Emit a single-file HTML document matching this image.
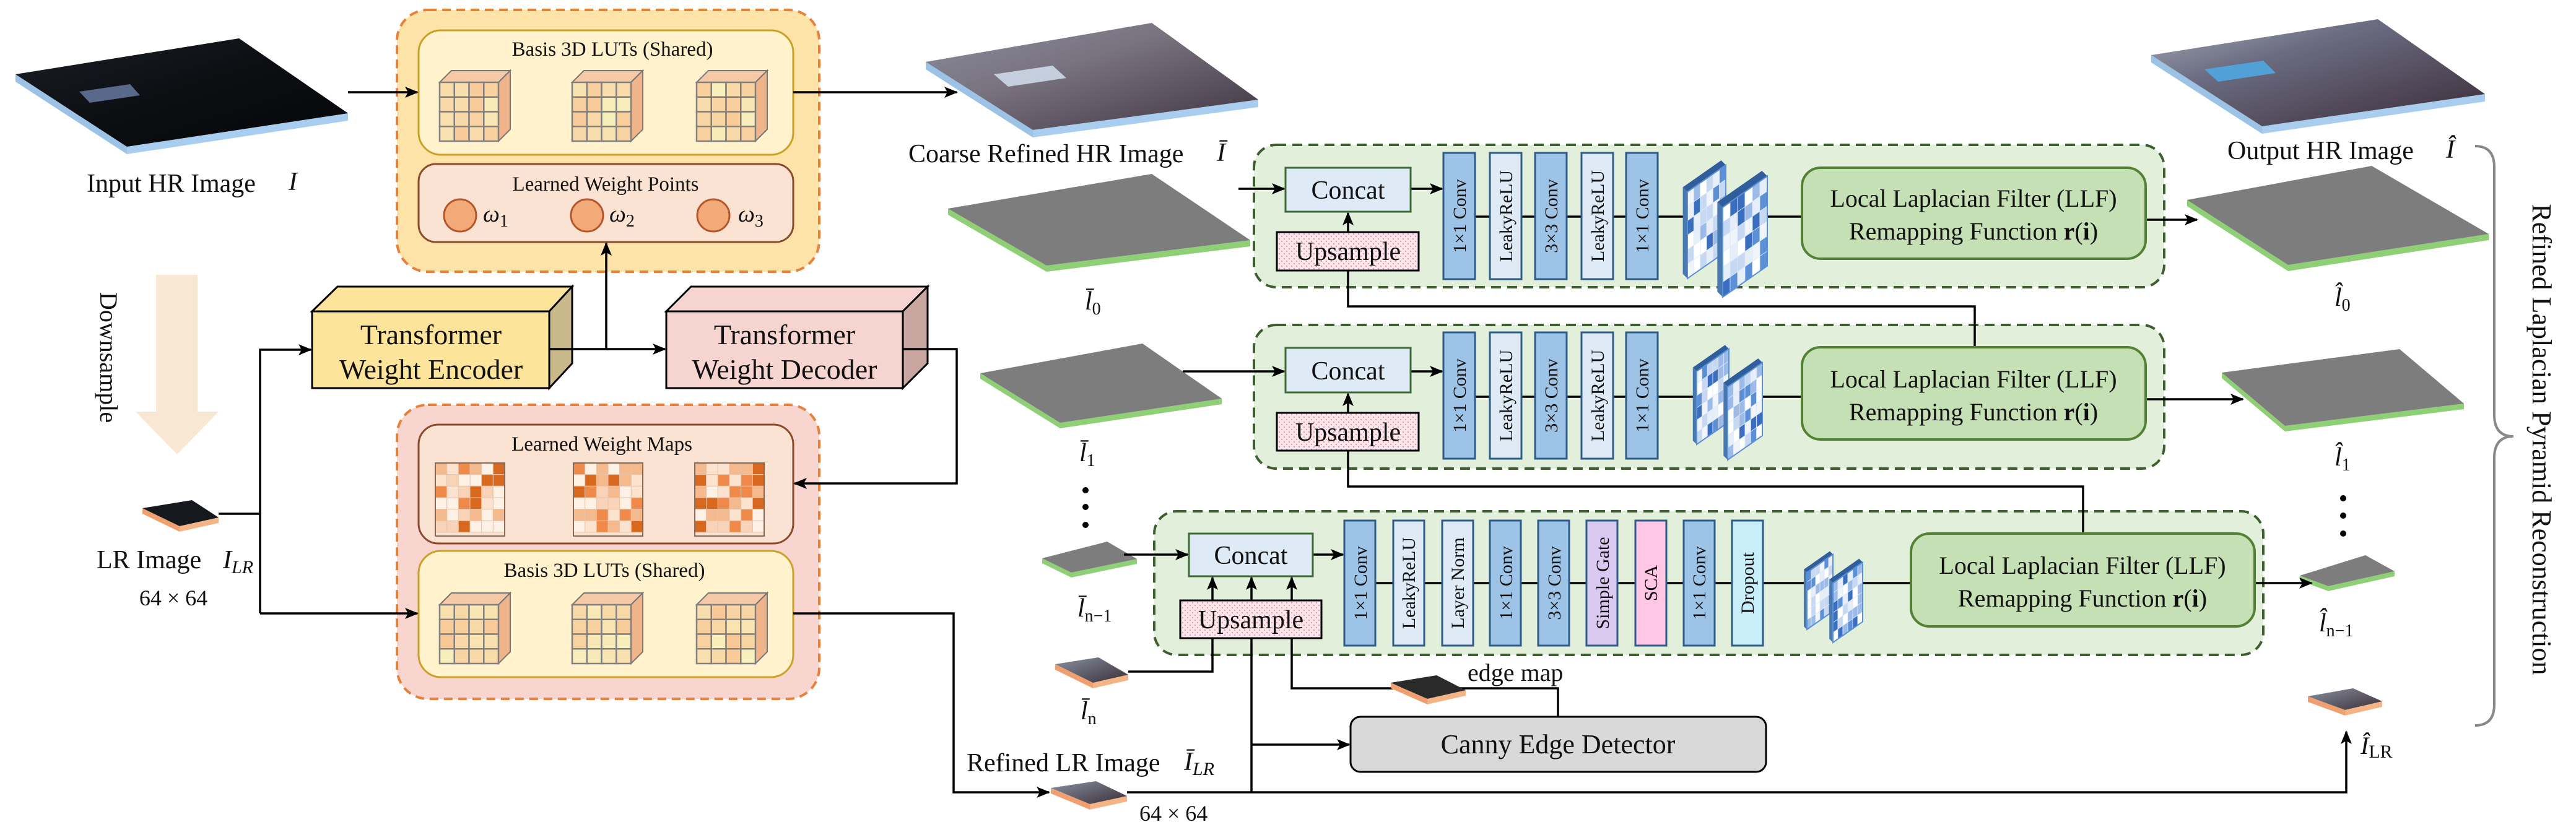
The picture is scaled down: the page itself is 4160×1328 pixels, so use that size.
<!DOCTYPE html>
<html><head><meta charset="utf-8"><style>
html,body{margin:0;padding:0;background:#fff;}
svg{display:block;}
svg text{font-family:"Liberation Serif","DejaVu Serif",serif;fill:#111;}
.m{font-style:italic;}
</style></head><body>
<svg id="s" width="4160" height="1328" viewBox="0 0 4160 1328" xmlns="http://www.w3.org/2000/svg" font-family="Liberation Serif, DejaVu Serif, serif">
<defs>
<marker id="a2" markerWidth="22" markerHeight="18" refX="20" refY="9" orient="auto" markerUnits="userSpaceOnUse"><path d="M0,0 L22,9 L0,18 L5,9 z" fill="#000"/></marker>
<pattern id="dots" width="8" height="8" patternUnits="userSpaceOnUse"><rect width="8" height="8" fill="#fde8ee"/><circle cx="2" cy="2" r="1.2" fill="#e79ab0"/><circle cx="6" cy="6" r="1.2" fill="#e79ab0"/></pattern>
<linearGradient id="gIn" x1="0" y1="0" x2="1" y2="1"><stop offset="0" stop-color="#1b1f26"/><stop offset="0.5" stop-color="#0c0e12"/><stop offset="1" stop-color="#050608"/></linearGradient>
<linearGradient id="gCo" x1="0" y1="0" x2="1" y2="1"><stop offset="0" stop-color="#8a8f9e"/><stop offset="0.4" stop-color="#7a7380"/><stop offset="1" stop-color="#3d3440"/></linearGradient>
<linearGradient id="gOut" x1="0" y1="0" x2="1" y2="1"><stop offset="0" stop-color="#a5a9b5"/><stop offset="0.35" stop-color="#6b6c82"/><stop offset="1" stop-color="#3a2a35"/></linearGradient>
<linearGradient id="gSm" x1="0" y1="0" x2="1" y2="1"><stop offset="0" stop-color="#8890a0"/><stop offset="1" stop-color="#3a2f38"/></linearGradient>
</defs>

<rect x="641" y="16" width="682" height="423" rx="50" fill="#fde3a7" stroke="#e8803a" stroke-width="4" stroke-dasharray="14,9"/>
<rect x="676" y="49" width="605" height="201" rx="36" fill="#fff2cc" stroke="#c9a227" stroke-width="3"/>
<text x="989" y="90" font-size="33" text-anchor="middle">Basis 3D LUTs (Shared)</text>
<rect x="676" y="265" width="605" height="126" rx="28" fill="#fbe3d4" stroke="#8b4a2b" stroke-width="3"/>
<text x="978" y="308" font-size="33" text-anchor="middle">Learned Weight Points</text>
<g fill="#f2ab78" stroke="#b5562a" stroke-width="3">
<circle cx="743" cy="348" r="26"/><circle cx="948" cy="348" r="26"/><circle cx="1152" cy="348" r="26"/></g>
<text x="780" y="358" font-size="38" class="m">ω<tspan font-size="28" dy="8" font-style="normal">1</tspan></text>
<text x="984" y="358" font-size="38" class="m">ω<tspan font-size="28" dy="8" font-style="normal">2</tspan></text>
<text x="1192" y="358" font-size="38" class="m">ω<tspan font-size="28" dy="8" font-style="normal">3</tspan></text>

<rect x="641" y="654" width="682" height="475" rx="50" fill="#f8d5cf" stroke="#e8803a" stroke-width="4" stroke-dasharray="14,9"/>
<rect x="676" y="686" width="605" height="192" rx="32" fill="#fbe3d4" stroke="#8b4a2b" stroke-width="3"/>
<text x="972" y="728" font-size="33" text-anchor="middle">Learned Weight Maps</text>
<rect x="676" y="890" width="605" height="204" rx="36" fill="#fff2cc" stroke="#c9a227" stroke-width="3"/>
<text x="976" y="932" font-size="33" text-anchor="middle">Basis 3D LUTs (Shared)</text>
<g id="cubes"></g>
<g id="wmaps"></g>

<polygon points="25,132 205,249 205,237 25,120" fill="#9cc2e5"/>
<polygon points="205,249 562,195 562,183 205,237" fill="#a9cdee"/>
<polygon points="25,120 386,62 562,183 205,237" fill="url(#gIn)"/>
<polygon points="128,148 210,136 226,154 145,166" fill="#6b7fa8" opacity="0.8"/>
<text x="140" y="310" font-size="42">Input HR Image</text><text x="466" y="307" font-size="42" class="m">I</text>

<polygon points="252,444 319,444 319,665 353,665 286,734 219,665 252,665" fill="#f8e7d2"/>
<text transform="translate(162,472) rotate(90)" font-size="40">Downsample</text>

<polygon points="230,830 290,859 290,850 230,821" fill="#f0a070"/>
<polygon points="290,859 353,845 353,836 290,850" fill="#f4b486"/>
<polygon points="230,821 310,808 353,836 290,850" fill="#15181d"/>
<text x="156" y="918" font-size="42">LR Image</text><text x="360" y="918" font-size="42" class="m">I<tspan font-size="30" dy="8">LR</tspan></text>
<text x="280" y="978" font-size="36" text-anchor="middle">64 × 64</text>

<polygon points="504,503 545,463 924,463 887,503" fill="#fde49b" stroke="#000" stroke-width="3"/>
<polygon points="887,503 924,463 924,587 887,627" fill="#c9b98a" stroke="#000" stroke-width="3"/>
<rect x="504" y="503" width="383" height="124" fill="#fde49b" stroke="#000" stroke-width="3"/>
<text x="696" y="556" font-size="46" text-anchor="middle">Transformer</text>
<text x="696" y="612" font-size="46" text-anchor="middle">Weight Encoder</text>
<polygon points="1076,503 1116,463 1498,463 1458,503" fill="#f6d5d0" stroke="#000" stroke-width="3"/>
<polygon points="1458,503 1498,463 1498,587 1458,627" fill="#c9a6a0" stroke="#000" stroke-width="3"/>
<rect x="1076" y="503" width="382" height="124" fill="#f6d5d0" stroke="#000" stroke-width="3"/>
<text x="1267" y="556" font-size="46" text-anchor="middle">Transformer</text>
<text x="1267" y="612" font-size="46" text-anchor="middle">Weight Decoder</text>

<g stroke="#000" stroke-width="3.5" fill="none">
<line x1="562" y1="149" x2="674" y2="149" marker-end="url(#a2)"/>
<polyline points="353,830 420,830"/>
<polyline points="420,991 420,565 502,565" marker-end="url(#a2)"/>
<polyline points="420,991 674,991" marker-end="url(#a2)"/>
<line x1="887" y1="564" x2="1074" y2="564" marker-end="url(#a2)"/>
<line x1="979" y1="564" x2="979" y2="393" marker-end="url(#a2)"/>
<polyline points="1458,564 1545,564 1545,781 1283,781" marker-end="url(#a2)"/>
<line x1="1281" y1="149" x2="1545" y2="149" marker-end="url(#a2)"/>
<polyline points="1281,991 1540,991 1540,1280 1694,1280" marker-end="url(#a2)"/>
</g>

<polygon points="1495,112 1668,222 1668,210 1495,100" fill="#9cc2e5"/>
<polygon points="1668,222 2032,173 2032,161 1668,210" fill="#a9cdee"/>
<polygon points="1495,100 1860,37 2032,161 1668,210" fill="url(#gCo)"/>
<polygon points="1605,120 1700,106 1722,126 1628,140" fill="#d8e6f5" opacity="0.8"/>
<text x="1467" y="262" font-size="42">Coarse Refined HR Image</text><text x="1965" y="260" font-size="42" class="m">Ī</text>

<polygon points="3474,101 3653,216 3653,204 3474,89" fill="#9cc2e5"/>
<polygon points="3653,216 4013,164 4013,152 3653,204" fill="#a9cdee"/>
<polygon points="3474,89 3840,31 4013,152 3653,204" fill="url(#gOut)"/>
<polygon points="3560,112 3655,98 3675,118 3582,132" fill="#4fa7e0" opacity="0.9"/>
<text x="3597" y="257" font-size="42">Output HR Image</text><text x="3950" y="255" font-size="42" class="m">Î</text>

<rect x="2025" y="234" width="1470" height="230" rx="36" fill="#e2efda" stroke="#3d5e2e" stroke-width="4" stroke-dasharray="16,10"/>
<rect x="2025" y="525" width="1470" height="232" rx="36" fill="#e2efda" stroke="#3d5e2e" stroke-width="4" stroke-dasharray="16,10"/>
<rect x="1864" y="826" width="1791" height="232" rx="36" fill="#e2efda" stroke="#3d5e2e" stroke-width="4" stroke-dasharray="16,10"/>

<g id="planes"></g>

<g stroke="#000" stroke-width="3.5" fill="none">
<line x1="2000" y1="305" x2="2074" y2="305" marker-end="url(#a2)"/>
<line x1="2278" y1="305" x2="2329" y2="305" marker-end="url(#a2)"/>
<line x1="2177" y1="375" x2="2177" y2="344" marker-end="url(#a2)"/>
<line x1="2382" y1="350" x2="2910" y2="350"/>
<line x1="3465" y1="355" x2="3548" y2="355" marker-end="url(#a2)"/>
<polyline points="2177,437 2177,495 3189,495 3189,561"/>

<line x1="1910" y1="600" x2="2074" y2="600" marker-end="url(#a2)"/>
<line x1="2278" y1="600" x2="2329" y2="600" marker-end="url(#a2)"/>
<line x1="2177" y1="667" x2="2177" y2="636" marker-end="url(#a2)"/>
<line x1="2382" y1="641" x2="2910" y2="641"/>
<line x1="3465" y1="645" x2="3622" y2="645" marker-end="url(#a2)"/>
<polyline points="2177,728 2177,786 3364,786 3364,862"/>

<line x1="1815" y1="896" x2="1918" y2="896" marker-end="url(#a2)"/>
<line x1="2120" y1="896" x2="2169" y2="896" marker-end="url(#a2)"/>
<line x1="1958" y1="970" x2="1958" y2="933" marker-end="url(#a2)"/>
<line x1="2021" y1="970" x2="2021" y2="933" marker-end="url(#a2)"/>
<line x1="2086" y1="970" x2="2086" y2="933" marker-end="url(#a2)"/>
<line x1="2221" y1="942" x2="3086" y2="942"/>
<line x1="3641" y1="942" x2="3733" y2="942" marker-end="url(#a2)"/>
<polyline points="1822,1085 1958,1085 1958,1031"/>
<polyline points="2021,1031 2021,1280"/>
<line x1="2021" y1="1203" x2="2179" y2="1203" marker-end="url(#a2)"/>
<polyline points="2086,1031 2086,1112 2516,1112 2516,1158"/>
<polyline points="1820,1280 3789,1280 3789,1182" marker-end="url(#a2)"/>
</g>

<g stroke-width="3">
<rect x="2076" y="271" width="202" height="71" fill="#deebf7" stroke="#3d6b35"/>
<rect x="2062" y="375" width="229" height="62" fill="url(#dots)" stroke="#000"/>
<rect x="2076" y="562" width="202" height="72" fill="#deebf7" stroke="#3d6b35"/>
<rect x="2062" y="667" width="229" height="61" fill="url(#dots)" stroke="#000"/>
<rect x="1920" y="862" width="200" height="69" fill="#deebf7" stroke="#3d6b35"/>
<rect x="1906" y="970" width="228" height="61" fill="url(#dots)" stroke="#000"/>
</g>
<text x="2177" y="321" font-size="42" text-anchor="middle">Concat</text>
<text x="2177" y="420" font-size="42" text-anchor="middle">Upsample</text>
<text x="2177" y="613" font-size="42" text-anchor="middle">Concat</text>
<text x="2177" y="712" font-size="42" text-anchor="middle">Upsample</text>
<text x="2020" y="911" font-size="42" text-anchor="middle">Concat</text>
<text x="2020" y="1015" font-size="42" text-anchor="middle">Upsample</text>

<g id="blocks" stroke-width="3"></g>
<g font-size="30">
<text transform="translate(2367,349) rotate(-90)" text-anchor="middle">1×1 Conv</text>
<text transform="translate(2442,349) rotate(-90)" text-anchor="middle">LeakyReLU</text>
<text transform="translate(2515,349) rotate(-90)" text-anchor="middle">3×3 Conv</text>
<text transform="translate(2590,349) rotate(-90)" text-anchor="middle">LeakyReLU</text>
<text transform="translate(2662,349) rotate(-90)" text-anchor="middle">1×1 Conv</text>
<text transform="translate(2367,639) rotate(-90)" text-anchor="middle">1×1 Conv</text>
<text transform="translate(2442,639) rotate(-90)" text-anchor="middle">LeakyReLU</text>
<text transform="translate(2515,639) rotate(-90)" text-anchor="middle">3×3 Conv</text>
<text transform="translate(2590,639) rotate(-90)" text-anchor="middle">LeakyReLU</text>
<text transform="translate(2662,639) rotate(-90)" text-anchor="middle">1×1 Conv</text>
<text transform="translate(2207,942) rotate(-90)" text-anchor="middle">1×1 Conv</text>
<text transform="translate(2285,942) rotate(-90)" text-anchor="middle">LeakyReLU</text>
<text transform="translate(2364,942) rotate(-90)" text-anchor="middle">Layer Norm</text>
<text transform="translate(2442,942) rotate(-90)" text-anchor="middle">1×1 Conv</text>
<text transform="translate(2520,942) rotate(-90)" text-anchor="middle">3×3 Conv</text>
<text transform="translate(2598,942) rotate(-90)" text-anchor="middle">Simple Gate</text>
<text transform="translate(2676,942) rotate(-90)" text-anchor="middle">SCA</text>
<text transform="translate(2754,942) rotate(-90)" text-anchor="middle">1×1 Conv</text>
<text transform="translate(2832,942) rotate(-90)" text-anchor="middle">Dropout</text>
</g>

<g id="slabs"></g>

<g fill="#c5e0b4" stroke="#548235" stroke-width="4">
<rect x="2910" y="271" width="555" height="147" rx="30"/>
<rect x="2910" y="561" width="555" height="149" rx="30"/>
<rect x="3086" y="862" width="555" height="150" rx="30"/>
</g>
<g font-size="40" text-anchor="middle">
<text x="3187" y="334">Local Laplacian Filter (LLF)</text>
<text x="3187" y="387">Remapping Function <tspan font-weight="bold">r</tspan>(<tspan font-weight="bold">i</tspan>)</text>
<text x="3187" y="626">Local Laplacian Filter (LLF)</text>
<text x="3187" y="679">Remapping Function <tspan font-weight="bold">r</tspan>(<tspan font-weight="bold">i</tspan>)</text>
<text x="3363" y="927">Local Laplacian Filter (LLF)</text>
<text x="3363" y="980">Remapping Function <tspan font-weight="bold">r</tspan>(<tspan font-weight="bold">i</tspan>)</text>
</g>

<rect x="2181" y="1158" width="671" height="89" rx="16" fill="#d9d9d9" stroke="#000" stroke-width="3"/>
<text x="2516" y="1217" font-size="44" text-anchor="middle">Canny Edge Detector</text>

<polygon points="2246,1112 2305,1138 2305,1129 2246,1103" fill="#f0a070"/>
<polygon points="2305,1138 2367,1124 2367,1115 2305,1129" fill="#f4b486"/>
<polygon points="2246,1103 2320,1091 2367,1115 2305,1129" fill="#2a2a2a"/>
<text x="2370" y="1100" font-size="40">edge map</text>

<polygon points="1704,1082 1765,1112 1765,1103 1704,1073" fill="#f0a070"/>
<polygon points="1765,1112 1822,1099 1822,1090 1765,1103" fill="#f4b486"/>
<polygon points="1704,1073 1774,1062 1822,1090 1765,1103" fill="url(#gSm)"/>

<polygon points="1697,1282 1760,1308 1760,1299 1697,1273" fill="#f0a070"/>
<polygon points="1760,1308 1820,1295 1820,1286 1760,1299" fill="#f4b486"/>
<polygon points="1697,1273 1770,1262 1820,1286 1760,1299" fill="url(#gSm)"/>
<text x="1561" y="1246" font-size="42">Refined LR Image</text><text x="1912" y="1244" font-size="42" class="m">Ī<tspan font-size="30" dy="8">LR</tspan></text>
<text x="1840" y="1326" font-size="36">64 × 64</text>

<polygon points="3727,1134 3787,1156 3787,1147 3727,1125" fill="#f0a070"/>
<polygon points="3787,1156 3847,1142 3847,1133 3787,1147" fill="#f4b486"/>
<polygon points="3727,1125 3800,1112 3847,1133 3787,1147" fill="url(#gSm)"/>
<text x="3812" y="1218" font-size="40" class="m">Î<tspan font-size="30" dy="6" font-style="normal">LR</tspan></text>

<g font-size="42" class="m">
<text x="1752" y="500">l̄<tspan font-size="28" dy="8" font-style="normal">0</tspan></text>
<text x="1743" y="745">l̄<tspan font-size="28" dy="8" font-style="normal">1</tspan></text>
<text x="1740" y="996">l̄<tspan font-size="28" dy="8" font-style="normal">n−1</tspan></text>
<text x="1745" y="1162">l̄<tspan font-size="28" dy="8" font-style="normal">n</tspan></text>
<text x="3770" y="494">l̂<tspan font-size="28" dy="8" font-style="normal">0</tspan></text>
<text x="3770" y="752">l̂<tspan font-size="28" dy="8" font-style="normal">1</tspan></text>
<text x="3745" y="1020">l̂<tspan font-size="28" dy="8" font-style="normal">n−1</tspan></text>
</g>
<g fill="#000">
<circle cx="1753" cy="792" r="5"/><circle cx="1753" cy="819" r="5"/><circle cx="1753" cy="848" r="5"/>
<circle cx="3784" cy="805" r="5"/><circle cx="3784" cy="833" r="5"/><circle cx="3784" cy="862" r="5"/>
</g>

<path d="M3997,236 Q4028,236 4028,270 L4028,670 Q4028,705 4059,705 Q4028,705 4028,740 L4028,1138 Q4028,1172 3997,1172" fill="none" stroke="#888" stroke-width="4"/>
<text transform="translate(4090,710) rotate(90)" font-size="44" text-anchor="middle">Refined Laplacian Pyramid Reconstruction</text>
</svg>
<script>
(function(){
var NS="http://www.w3.org/2000/svg";
function el(p,t,a){var e=document.createElementNS(NS,t);for(var k in a)e.setAttribute(k,a[k]);p.appendChild(e);return e;}
var rnd=(function(){var s=7;return function(){s=(s*9301+49297)%233280;return s/233280;};})();
var cg=document.getElementById('cubes');
function cube(x,y){var w=95,d=19,c=w/4;
 el(cg,'polygon',{points:(x)+','+(y+d)+' '+(x+d)+','+y+' '+(x+w+d)+','+y+' '+(x+w)+','+(y+d),fill:'#f6c9a6',stroke:'#777','stroke-width':2});
 el(cg,'polygon',{points:(x+w)+','+(y+d)+' '+(x+w+d)+','+y+' '+(x+w+d)+','+(y+w)+' '+(x+w)+','+(y+w+d),fill:'#f0b48a',stroke:'#777','stroke-width':2});
 for(var i=0;i<4;i++)for(var j=0;j<4;j++){var v=Math.floor(200+rnd()*40);
  el(cg,'rect',{x:x+j*c,y:y+d+i*c,width:c,height:c,fill:'rgb(248,'+v+','+(v-50)+')',stroke:'#808080','stroke-width':2.5});}
}
[[710,114],[924,114],[1125,114],[710,958],[924,958],[1125,958]].forEach(function(p){cube(p[0],p[1]);});
var wg=document.getElementById('wmaps');
var oc=['#fdf0e4','#f9d3b8','#f5b98e','#ef8a4b','#d9681f','#fbe3cf'];
[[703,748],[926,748],[1122,748]].forEach(function(p){var c=112/6;
 for(var i=0;i<6;i++)for(var j=0;j<6;j++){el(wg,'rect',{x:p[0]+j*c,y:p[1]+i*c,width:c,height:c,fill:oc[Math.floor(rnd()*6)],stroke:'#e8c4a8','stroke-width':1});}
 el(wg,'rect',{x:p[0],y:p[1],width:112,height:118,fill:'none',stroke:'#8a6a55','stroke-width':2});});
var pg=document.getElementById('planes');
function plane(L,T,R,B,th,top,side){
 el(pg,'polygon',{points:L[0]+','+L[1]+' '+B[0]+','+B[1]+' '+B[0]+','+(B[1]+th)+' '+L[0]+','+(L[1]+th),fill:side});
 el(pg,'polygon',{points:B[0]+','+B[1]+' '+R[0]+','+R[1]+' '+R[0]+','+(R[1]+th)+' '+B[0]+','+(B[1]+th),fill:side});
 el(pg,'polygon',{points:L[0]+','+L[1]+' '+T[0]+','+T[1]+' '+R[0]+','+R[1]+' '+B[0]+','+B[1],fill:top});}
plane([1531,337],[1860,281],[2019,388],[1690,429],10,'#7d7d7d','#8fcf76');
plane([1583,603],[1845,555],[1973,644],[1712,683],9,'#7d7d7d','#8fcf76');
plane([1683,902],[1788,875],[1836,903],[1730,925],8,'#7d7d7d','#8fcf76');
plane([3532,323],[3830,268],[4019,378],[3695,428],10,'#7d7d7d','#8fcf76');
plane([3588,602],[3875,564],[3979,652],[3690,688],9,'#7d7d7d','#8fcf76');
plane([3714,930],[3820,897],[3867,923],[3760,947],8,'#7d7d7d','#8fcf76');
var bg=document.getElementById('blocks');
var dk='#9dc3e6',lt='#deebf7';
function blk(x,y,w,h,f){el(bg,'rect',{x:x,y:y,width:w,height:h,fill:f,stroke:'#2e5b8a'});}
[[2331,dk],[2406,lt],[2479,dk],[2554,lt],[2626,dk]].forEach(function(b){blk(b[0],247,51,204,b[1]);blk(b[0],537,51,204,b[1]);});
[[2171,dk],[2250,lt],[2329,lt],[2406,dk],[2484,dk],[2562,'#d9c8f0'],[2641,'#ffc6e6'],[2719,dk],[2797,'#c7eef9']].forEach(function(b){blk(b[0],841,50,202,b[1]);});
var sg=document.getElementById('slabs');
var bc=['#ffffff','#e6eefa','#c7d8f2','#9dbbe8','#5b8fd6','#3a6fc0','#f0f5fc'];
function slab(x,y,w,h){var n=6,c=w/n,r=h/n,k=0.7,sk=w*k,d=w*0.12;
 // top depth face
 el(sg,'polygon',{points:x+','+y+' '+(x+w)+','+(y-sk)+' '+(x+w-d)+','+(y-sk-d)+' '+(x-d)+','+(y-d),fill:'#2f5e9a'});
 el(sg,'polygon',{points:x+','+y+' '+(x-d)+','+(y-d)+' '+(x-d)+','+(y+h-d)+' '+x+','+(y+h),fill:'#4a78b0'});
 for(var i=0;i<n;i++)for(var j=0;j<n;j++){
  var x0=x+j*c,y0=y+i*r-j*c*k;
  el(sg,'polygon',{points:x0+','+y0+' '+(x0+c)+','+(y0-c*k)+' '+(x0+c)+','+(y0-c*k+r)+' '+x0+','+(y0+r),fill:bc[Math.floor(rnd()*7)],stroke:'#dfe8f6','stroke-width':0.8});}
 el(sg,'polygon',{points:x+','+y+' '+(x+w)+','+(y-sk)+' '+(x+w)+','+(y-sk+h)+' '+x+','+(y+h),fill:'none',stroke:'#5b8fd6','stroke-width':2});}
slab(2725,310,62,140);slab(2782,335,72,145);
slab(2740,600,52,118);slab(2790,625,56,118);
slab(2918,925,42,92);slab(2960,942,48,96);
})();
</script>
</body></html>
